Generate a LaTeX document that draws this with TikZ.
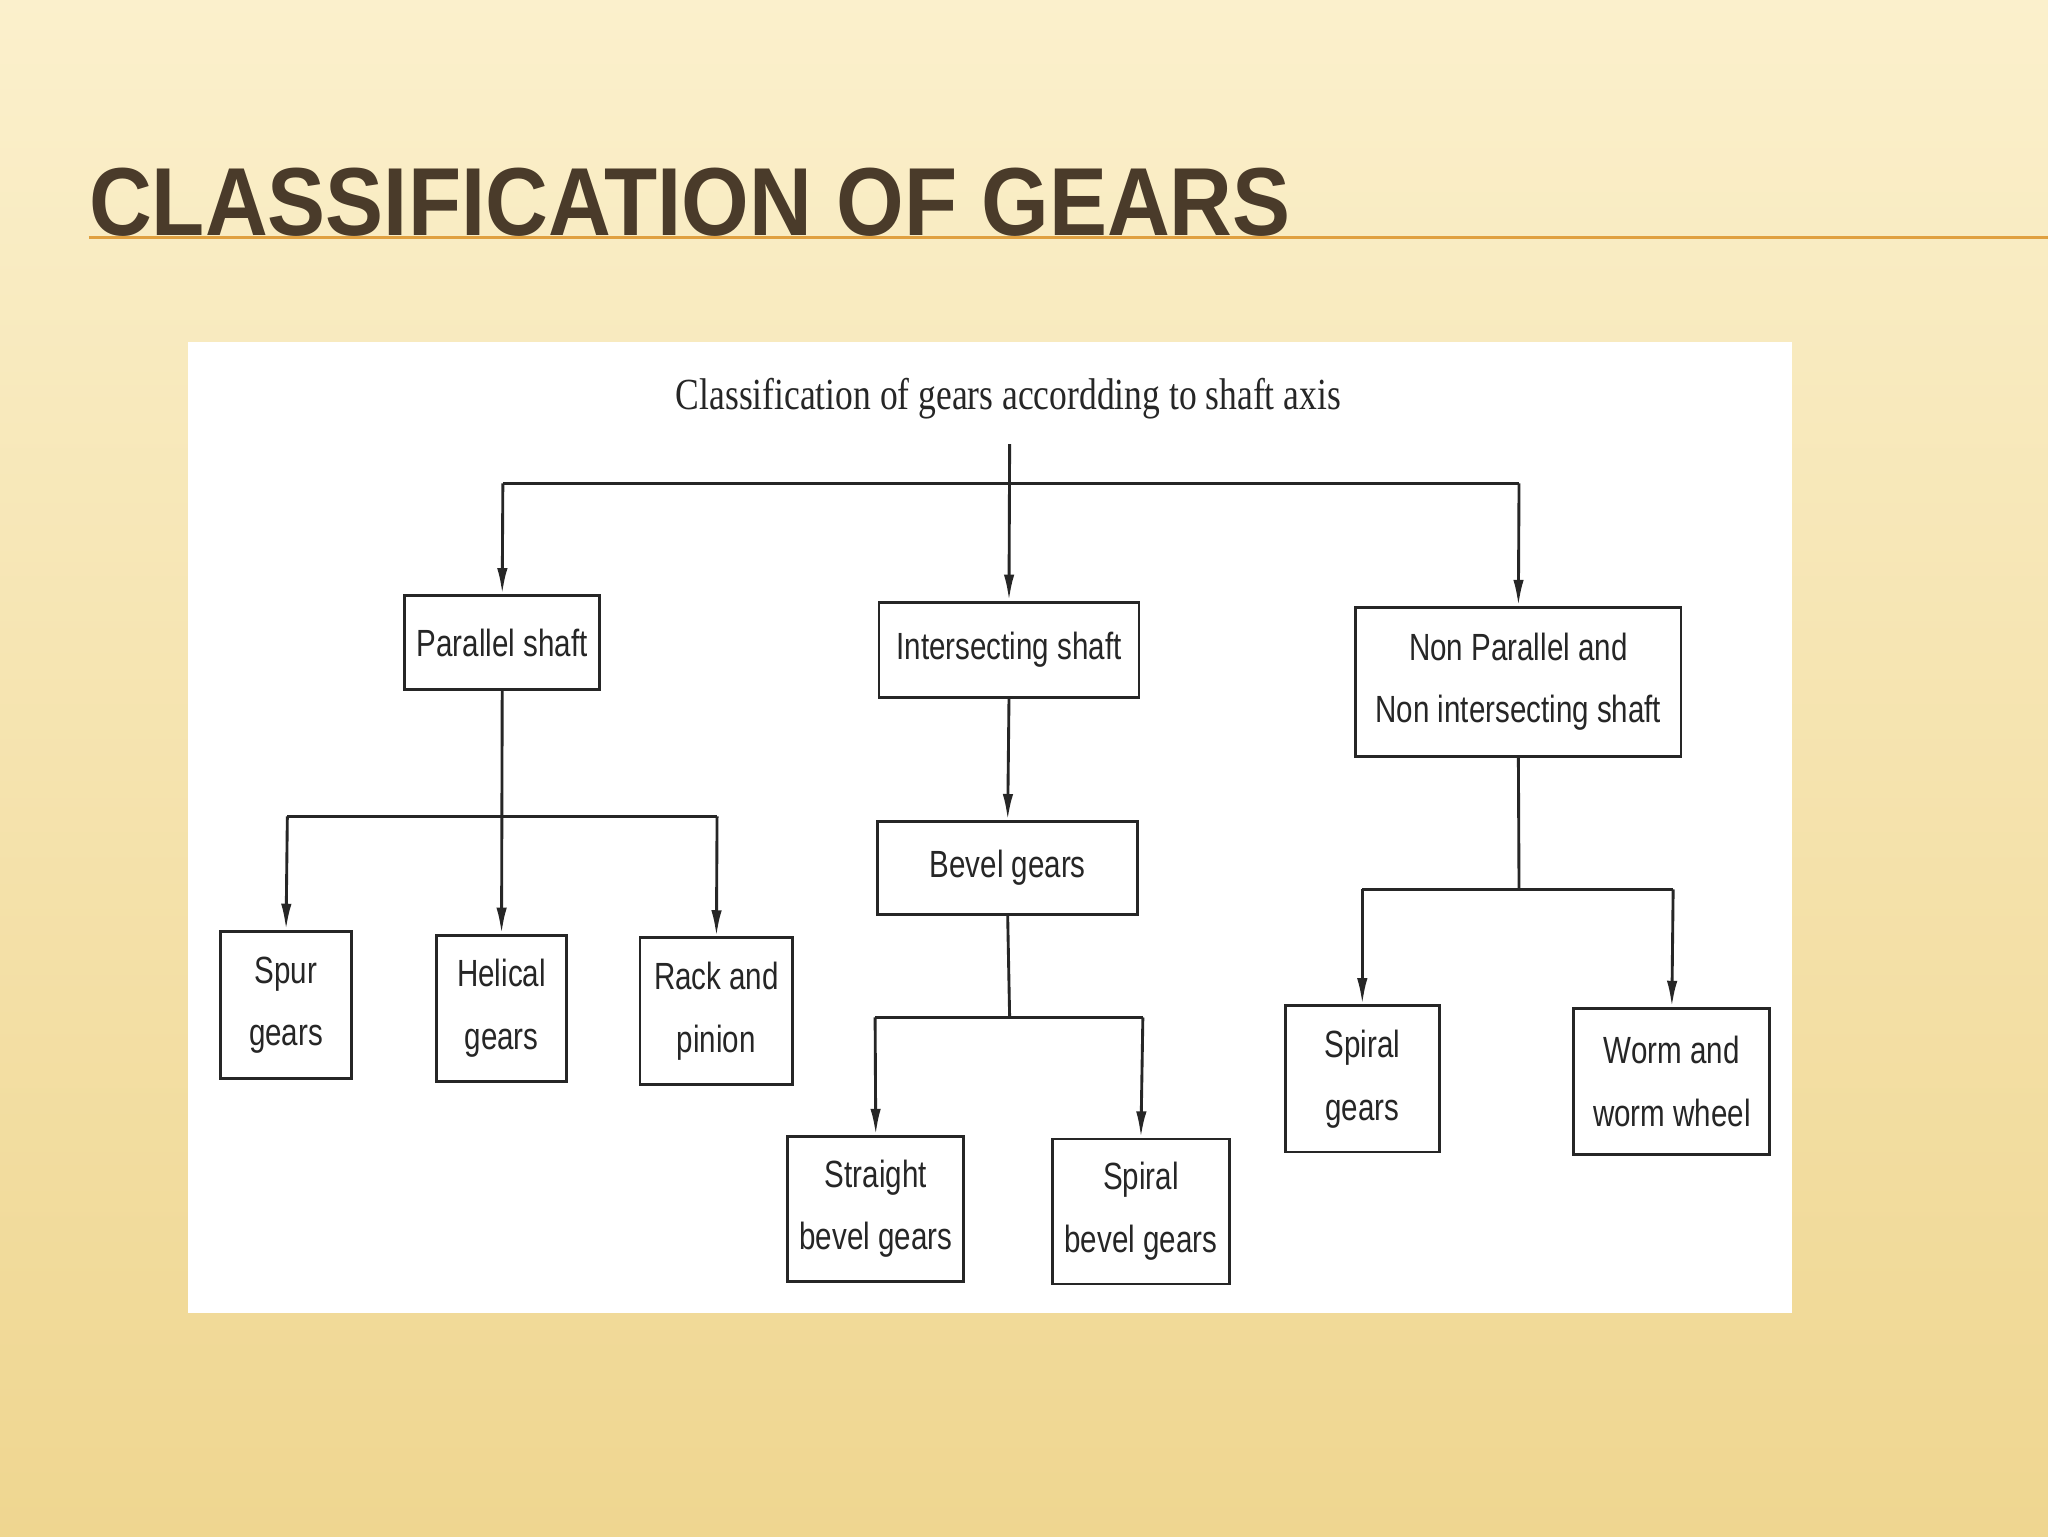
\documentclass[tikz,border=0pt]{standalone}
\usepackage{fontspec}
\setmainfont{Liberation Sans}
\newfontfamily\cond[FakeStretch=0.78]{Liberation Sans}
\newfontfamily\condser[FakeStretch=0.8]{Liberation Serif}
\usetikzlibrary{arrows.meta}
\definecolor{bgtop}{HTML}{FBF0CC}
\definecolor{bgbot}{HTML}{EFD690}
\definecolor{ttl}{HTML}{4A3B2A}
\definecolor{rule}{HTML}{E0A040}
\tikzset{
  gbox/.style={draw=black!85,line width=2.2pt,align=center,font=\cond\fontsize{29}{48}\selectfont,inner sep=0pt,text=black!85},
  conn/.style={draw=black!85,line width=2.2pt},
  arr/.style={conn,-{Latex[length=20pt,width=8pt]}}
}
\begin{document}
\begin{tikzpicture}[x=1pt,y=-1pt]
\shade[top color=bgtop,bottom color=bgbot] (0,0) rectangle (1568,1176);
\useasboundingbox (0,0) rectangle (1568,1176);
\node[anchor=base west,inner sep=0pt,text=ttl,font=\fontsize{74}{80}\bfseries\selectfont,xscale=0.9] (title) at (68,180) {CLASSIFICATION OF GEARS};
\draw[rule,line width=2pt] (68,182) -- (1568,182);
\fill[white] (144,262) rectangle (1372,1005);
\node[font=\condser\fontsize{34}{36}\selectfont,text=black!85] (hdr) at (772,305) {Classification of gears accordding to shaft axis};
% level 1 boxes
\node[gbox,minimum width=149pt,minimum height=72pt] (par) at (384.5,492) {Parallel shaft};
\node[gbox,minimum width=199pt,minimum height=73pt] (int) at (772.5,497.5) {Intersecting shaft};
\node[gbox,minimum width=249pt,minimum height=114pt] (non) at (1162.5,522) {Non Parallel and\\Non intersecting shaft};
\coordinate (t0) at (773,340);
\coordinate (hl) at (385,370);
\coordinate (hr) at (1163,370);
\draw[conn] (hl) -- (hr);
\draw[arr] (t0) -- (int.north);
\draw[arr] (hl) -- (par.north);
\draw[arr] (hr) -- (non.north);
% parallel children
\node[gbox,minimum width=100pt,minimum height=113pt] (spur) at (219,769.5) {Spur\\gears};
\node[gbox,minimum width=100pt,minimum height=112pt] (hel) at (384,772) {Helical\\gears};
\node[gbox,minimum width=117pt,minimum height=112pt] (rack) at (548.5,774) {Rack and\\pinion};
\coordinate (pl) at (220,625);
\coordinate (pr) at (549,625);
\draw[conn] (pl) -- (pr);
\draw[arr] (par.south) -- (hel.north);
\draw[arr] (pl) -- (spur.north);
\draw[arr] (pr) -- (rack.north);
% intersecting
\node[gbox,minimum width=199pt,minimum height=71pt] (bev) at (771.5,664.5) {Bevel gears};
\draw[arr] (int.south) -- (bev.north);
\node[gbox,minimum width=135pt,minimum height=111pt] (str) at (670.5,925.5) {Straight\\bevel gears};
\node[gbox,minimum width=135pt,minimum height=111pt] (spb) at (873.5,927.5) {Spiral\\bevel gears};
\coordinate (bj) at (773,779);
\coordinate (bl) at (670,779);
\coordinate (br) at (875,779);
\draw[conn] (bev.south) -- (bj);
\draw[conn] (bl) -- (br);
\draw[arr] (bl) -- (str.north);
\draw[arr] (br) -- (spb.north);
% non parallel
\node[gbox,minimum width=118pt,minimum height=112pt] (spi) at (1043,826) {Spiral\\gears};
\node[gbox,minimum width=150pt,minimum height=112pt] (worm) at (1280,828) {Worm and\\worm wheel};
\coordinate (nj) at (1163,681);
\coordinate (nl) at (1043,681);
\coordinate (nr) at (1281,681);
\draw[conn] (non.south) -- (nj);
\draw[conn] (nl) -- (nr);
\draw[arr] (nl) -- (spi.north);
\draw[arr] (nr) -- (worm.north);
\end{tikzpicture}
\end{document}
